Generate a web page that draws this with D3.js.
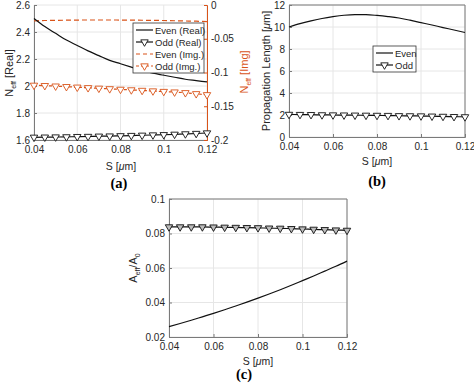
<!DOCTYPE html>
<html>
<head>
<meta charset="utf-8">
<script src="https://cdn.jsdelivr.net/npm/d3@7"></script>
<style>
  body { margin: 0; background: #fff; }
  svg { font-family: "Liberation Sans", Arial, sans-serif; }
  .tick text { fill: #262626; font-size: 10px; }
  .grid line { stroke: #e6e6e6; }
  .panel { font-family: "Liberation Serif", "Times New Roman", serif; font-weight: bold; font-size: 14.5px; }
</style>
</head>
<body>
<svg width="474" height="386"></svg>
<script>
// x values (S in um), markers every 0.005
const S = [0.04, 0.045, 0.05, 0.055, 0.06, 0.065, 0.07, 0.075, 0.08, 0.085, 0.09, 0.095, 0.1, 0.105, 0.11, 0.115, 0.12]
const xTicks = [0.04, 0.06, 0.08, 0.1, 0.12]

// (a) effective index
const evenReal = [2.50, 2.44, 2.39, 2.34, 2.30, 2.26, 2.225, 2.19, 2.165, 2.14, 2.115, 2.095, 2.08, 2.065, 2.05, 2.04, 2.03]
const oddReal = [1.620, 1.621, 1.622, 1.623, 1.625, 1.626, 1.628, 1.629, 1.631, 1.633, 1.635, 1.637, 1.639, 1.642, 1.645, 1.648, 1.652]
const evenImg = [-0.0235, -0.023, -0.0228, -0.0225, -0.0223, -0.0222, -0.0222, -0.0222, -0.0223, -0.0224, -0.0226, -0.0228, -0.023, -0.0233, -0.0237, -0.024, -0.0245]
const oddImg = [-0.119, -0.1195, -0.1202, -0.121, -0.1218, -0.1226, -0.1234, -0.1242, -0.125, -0.1258, -0.1266, -0.1274, -0.1282, -0.129, -0.130, -0.1315, -0.133]
const aLeftTicks = [1.6, 1.8, 2, 2.2, 2.4, 2.6]
const aRightTicks = [0, -0.05, -0.1, -0.15, -0.2]

// (b) propagation length
const evenLen = [10.0, 10.3, 10.55, 10.77, 10.94, 11.07, 11.13, 11.12, 11.05, 10.95, 10.82, 10.62, 10.4, 10.18, 9.95, 9.73, 9.5]
const oddLen = [2.05, 2.04, 2.03, 2.01, 2.0, 1.99, 1.98, 1.97, 1.96, 1.95, 1.93, 1.92, 1.91, 1.89, 1.87, 1.85, 1.83]
const bTicks = [0, 2, 4, 6, 8, 10, 12]

// (c) normalised effective area
const evenArea = [0.026, 0.0278, 0.0297, 0.0317, 0.0337, 0.0358, 0.038, 0.0402, 0.0425, 0.0449, 0.0474, 0.05, 0.0527, 0.0554, 0.0582, 0.061, 0.064]
const oddArea = [0.0838, 0.0838, 0.0838, 0.0838, 0.0837, 0.0836, 0.0835, 0.0834, 0.0833, 0.0831, 0.083, 0.0828, 0.0826, 0.0824, 0.0822, 0.082, 0.0818]
const cTicks = [0.02, 0.04, 0.06, 0.08, 0.1]

const orange = "#D95319"
const axisGray = "#7a7a7a"
const svg = d3.select("svg")

function makeAxes(box, yDomain, yTicks, fmt) {
    const x = d3.scaleLinear().domain([0.04, 0.12]).range([box.x0, box.x1])
    const y = d3.scaleLinear().domain(yDomain).range([box.y1, box.y0])

    // grid
    const g = svg.append("g").attr("class", "grid")
    g.selectAll(".gx").data(xTicks).enter().append("line")
        .attr("x1", d => x(d)).attr("x2", d => x(d))
        .attr("y1", box.y0).attr("y2", box.y1)
    g.selectAll(".gy").data(yTicks).enter().append("line")
        .attr("x1", box.x0).attr("x2", box.x1)
        .attr("y1", d => y(d)).attr("y2", d => y(d))

    const bottom = svg.append("g")
        .attr("transform", `translate(0, ${box.y1})`)
        .call(d3.axisBottom(x).tickValues(xTicks).tickSize(-3).tickPadding(6)
            .tickFormat(d => String(+d.toFixed(2))))
    const left = svg.append("g")
        .attr("transform", `translate(${box.x0}, 0)`)
        .call(d3.axisLeft(y).tickValues(yTicks).tickSize(-3).tickPadding(4).tickFormat(fmt))
    ;[bottom, left].forEach(a => {
        a.select(".domain").attr("stroke", axisGray)
        a.selectAll(".tick line").attr("stroke", axisGray)
    })
    return { x, y }
}

function drawLine(x, y, vals, color, dash) {
    svg.append("path")
        .datum(vals)
        .attr("fill", "none")
        .attr("stroke", color)
        .attr("stroke-width", 1.2)
        .attr("stroke-dasharray", dash || null)
        .attr("d", d3.line().curve(d3.curveMonotoneX).x((d, i) => x(S[i])).y(d => y(d)))
}

function drawMarkers(x, y, vals, color, fill) {
    const tri = d3.symbol().type(d3.symbolTriangle).size(24)
    svg.append("g").selectAll("path")
        .data(vals)
        .enter()
        .append("path")
        .attr("d", tri)
        .attr("transform", (d, i) => `translate(${x(S[i])}, ${y(d)}) rotate(180)`)
        .attr("fill", fill)
        .attr("stroke", color)
        .attr("stroke-width", 0.9)
}

function legend(x0, y0, w, items) {
    const rowH = 12
    svg.append("rect")
        .attr("x", x0).attr("y", y0)
        .attr("width", w).attr("height", items.length * rowH + 2)
        .attr("fill", "#fff").attr("stroke", "#333").attr("stroke-width", 0.8)
    items.forEach((it, i) => {
        const cy = y0 + 7 + i * rowH
        svg.append("line")
            .attr("x1", x0 + 3).attr("x2", x0 + 20)
            .attr("y1", cy).attr("y2", cy)
            .attr("stroke", it.color).attr("stroke-width", 1.2)
            .attr("stroke-dasharray", it.dash || null)
        if (it.marker) {
            svg.append("path")
                .attr("d", d3.symbol().type(d3.symbolTriangle).size(24))
                .attr("transform", `translate(${x0 + 11.5}, ${cy}) rotate(180)`)
                .attr("fill", "#fff").attr("stroke", it.color).attr("stroke-width", 0.9)
        }
        svg.append("text")
            .attr("x", x0 + 22).attr("y", cy + 3.5)
            .attr("font-size", 9.5).attr("fill", "#262626")
            .text(it.label)
    })
}

function xLabel(cx, cy) {
    const t = svg.append("text").attr("x", cx).attr("y", cy)
        .attr("text-anchor", "middle").attr("font-size", 10.5).attr("fill", "#262626")
    t.append("tspan").text("S [")
    t.append("tspan").attr("font-style", "italic").text("\u03bc")
    t.append("tspan").text("m]")
}

// ----- panel (a)
const boxA = { x0: 34, x1: 207, y0: 5, y1: 140 }
const a = makeAxes(boxA, [1.6, 2.6], aLeftTicks, d => String(d))
const yImg = d3.scaleLinear().domain([-0.2, 0]).range([boxA.y1, boxA.y0])
const right = svg.append("g")
    .attr("transform", `translate(${boxA.x1}, 0)`)
    .call(d3.axisRight(yImg).tickValues(aRightTicks).tickSize(-3).tickPadding(4).tickFormat(d => String(d)))
right.select(".domain").attr("stroke", orange)
right.selectAll(".tick line").attr("stroke", orange)
right.selectAll(".tick text").attr("fill", orange)

drawLine(a.x, yImg, evenImg, orange, "5,3")
drawLine(a.x, yImg, oddImg, orange, "3,2")
drawMarkers(a.x, yImg, oddImg, orange, "#fff")
drawLine(a.x, a.y, evenReal, "#111")
drawLine(a.x, a.y, oddReal, "#111")
drawMarkers(a.x, a.y, oddReal, "#111", "#fff")

legend(133, 23, 71, [
    { label: "Even (Real)", color: "#111" },
    { label: "Odd (Real)", color: "#111", marker: true },
    { label: "Even (Img.)", color: orange, dash: "4,3" },
    { label: "Odd (Img.)", color: orange, dash: "3,2", marker: true }
])

const yla = svg.append("text").attr("transform", "translate(13, 73) rotate(-90)")
    .attr("text-anchor", "middle").attr("font-size", 11).attr("fill", "#262626")
yla.append("tspan").text("N")
yla.append("tspan").attr("font-size", 7).attr("dy", 3).text("eff")
yla.append("tspan").attr("dy", -3).text(" [Real]")

const ylr = svg.append("text").attr("transform", "translate(248, 72) rotate(-90)")
    .attr("text-anchor", "middle").attr("font-size", 11).attr("fill", orange)
ylr.append("tspan").text("N")
ylr.append("tspan").attr("font-size", 7).attr("dy", 3).text("eff")
ylr.append("tspan").attr("dy", -3).text(" [Img]")

xLabel(121, 170)
svg.append("text").attr("class", "panel").attr("x", 119).attr("y", 188)
    .attr("text-anchor", "middle").text("(a)")

// ----- panel (b)
const boxB = { x0: 289, x1: 465, y0: 5, y1: 137 }
const b = makeAxes(boxB, [0, 12], bTicks, d => String(d))
svg.append("path")
    .attr("d", `M${boxB.x0},${boxB.y0}H${boxB.x1}V${boxB.y1}`)
    .attr("fill", "none").attr("stroke", axisGray)
drawLine(b.x, b.y, evenLen, "#111")
drawLine(b.x, b.y, oddLen, "#111")
drawMarkers(b.x, b.y, oddLen, "#111", "#fff")
legend(373, 46, 43, [
    { label: "Even", color: "#111" },
    { label: "Odd", color: "#111", marker: true }
])
const ylb = svg.append("text").attr("transform", "translate(270, 71) rotate(-90)")
    .attr("text-anchor", "middle").attr("font-size", 11).attr("fill", "#262626")
ylb.append("tspan").text("Propagation Length [")
ylb.append("tspan").attr("font-style", "italic").text("\u03bc")
ylb.append("tspan").text("m]")
xLabel(377, 165)
svg.append("text").attr("class", "panel").attr("x", 377).attr("y", 186)
    .attr("text-anchor", "middle").text("(b)")

// ----- panel (c)
const boxC = { x0: 169, x1: 347, y0: 199, y1: 337 }
const c = makeAxes(boxC, [0.02, 0.1], cTicks, d => String(d))
svg.append("path")
    .attr("d", `M${boxC.x0},${boxC.y0}H${boxC.x1}V${boxC.y1}`)
    .attr("fill", "none").attr("stroke", axisGray)
drawLine(c.x, c.y, evenArea, "#111")
drawLine(c.x, c.y, oddArea, "#111")
drawMarkers(c.x, c.y, oddArea, "#111", "#bdbdbd")
const ylc = svg.append("text").attr("transform", "translate(137, 268) rotate(-90)")
    .attr("text-anchor", "middle").attr("font-size", 11).attr("fill", "#262626")
ylc.append("tspan").text("A")
ylc.append("tspan").attr("font-size", 7).attr("dy", 3).text("eff")
ylc.append("tspan").attr("dy", -3).text("/A")
ylc.append("tspan").attr("font-size", 7).attr("dy", 3).text("0")
xLabel(258, 365)
svg.append("text").attr("class", "panel").attr("x", 244).attr("y", 379)
    .attr("text-anchor", "middle").text("(c)")
</script>
</body>
</html>
